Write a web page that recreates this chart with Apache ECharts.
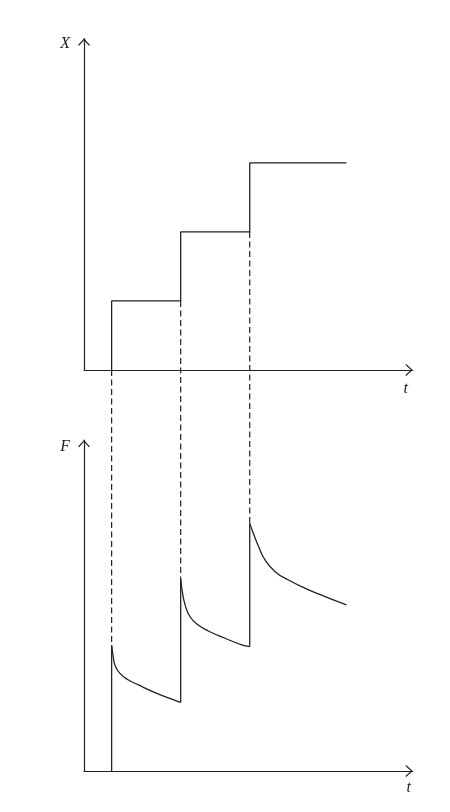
<!DOCTYPE html>
<html><head><meta charset="utf-8">
<script src="https://cdn.jsdelivr.net/npm/echarts@6/dist/echarts.min.js"></script>
<style>html,body{margin:0;padding:0;background:#fff}#c{width:450px;height:812px}</style>
</head><body><div id="c"></div>
<script>
// ---- data ----
const stepTimes = [1, 3.5, 6];
const endTime = 9.5;
const xLevels = [1, 2, 3];
const relax1 = [[1,38],[1.06,34.5],[1.12,32],[1.3,29.5],[1.61,27.5],[1.97,26],[2.57,23.7],[3.18,21.7],[3.5,20.7]];
const relax2 = [[3.5,58],[3.56,54.2],[3.66,50.2],[3.84,46.6],[4.14,44.1],[4.5,42.3],[5.11,40.1],[5.71,38.1],[6,37.6]];
const relax3 = [[6,74.8],[6.13,71.8],[6.32,67.8],[6.56,63.7],[6.92,60.2],[7.4,57.7],[8.01,55.2],[8.73,52.7],[9.5,50.2]];
const relaxSegments = [relax1, relax2, relax3];

// ---- derived ----
const displacement = [];
let prev = 0;
stepTimes.forEach((t, i) => {
  displacement.push([t, prev], [t, xLevels[i]]);
  prev = xLevels[i];
});
displacement.push([endTime, prev]);

const jumpSeries = relaxSegments.map((seg, i) => {
  const from = i === 0 ? 0 : relaxSegments[i - 1][relaxSegments[i - 1].length - 1][1];
  return [[stepTimes[i], from], seg[0]];
});

const INK = '#222';
const serifItalic = {fontFamily: 'Liberation Serif', fontStyle: 'italic', fontSize: 16, color: INK};
const arrowPath = 'path://M0,6.6 L6,0 L12,6.6 L11,7.3 L6,1.8 L1,7.3 Z';
const axisLine = {
  show: true, onZero: false,
  symbol: ['none', arrowPath], symbolSize: [12, 7.3], symbolOffset: [0, -3.6],
  lineStyle: {color: INK, width: 1.2}
};
function xAx(gi, gap, pad) {
  return {type: 'value', gridIndex: gi, min: 0, max: 11.9,
    axisLine: axisLine, axisTick: {show: false}, axisLabel: {show: false}, splitLine: {show: false},
    name: 't', nameLocation: 'end', nameGap: gap,
    nameTextStyle: Object.assign({}, serifItalic, {align: 'center', verticalAlign: 'top', padding: [pad, 0, 0, 0]})};
}
function yAx(gi, name, max, gap) {
  return {type: 'value', gridIndex: gi, min: 0, max: max,
    axisLine: axisLine, axisTick: {show: false}, axisLabel: {show: false}, splitLine: {show: false},
    name: name, nameLocation: 'end', nameGap: gap,
    nameTextStyle: Object.assign({}, serifItalic, {align: 'right', verticalAlign: 'middle', padding: [0, 14, 0, 0]})};
}
const lineBase = {type: 'line', showSymbol: false, silent: true, animation: false,
  lineStyle: {color: INK, width: 1.3}};

const chart = echarts.init(document.getElementById('c'), null, {renderer: 'canvas'});
const series = [
  Object.assign({}, lineBase, {name: 'X', xAxisIndex: 0, yAxisIndex: 0, data: displacement})
];
relaxSegments.forEach(seg => series.push(Object.assign({}, lineBase,
  {xAxisIndex: 1, yAxisIndex: 1, data: seg, smooth: 0.5})));
jumpSeries.forEach(seg => series.push(Object.assign({}, lineBase,
  {xAxisIndex: 1, yAxisIndex: 1, data: seg})));

chart.setOption({
  animation: false,
  backgroundColor: '#fff',
  grid: [
    {left: 84, width: 328.7, top: 38.5, height: 331.5, outerBoundsMode: 'none', containLabel: false},
    {left: 84, width: 328.7, top: 440, height: 331, outerBoundsMode: 'none', containLabel: false}
  ],
  xAxis: [xAx(0, -7, 11), xAx(1, -4, 9)],
  yAxis: [yAx(0, 'X', 4.8, -5), yAx(1, 'F', 100, -7)],
  series: series
});

// dashed connectors between the panels, positioned through the axes' scales
const prevLevels = [0].concat(xLevels.slice(0, -1));
const graphics = stepTimes.map((t, i) => {
  const p1 = chart.convertToPixel({gridIndex: 0}, [t, prevLevels[i]]);
  const p2 = chart.convertToPixel({gridIndex: 1}, relaxSegments[i][0]);
  return {type: 'line', silent: true,
    shape: {x1: p1[0], y1: p1[1], x2: p2[0], y2: p2[1]},
    style: {stroke: INK, lineWidth: 1.2, lineDash: [6, 3.5]}};
});
chart.setOption({graphic: graphics});
</script>
</body></html>
